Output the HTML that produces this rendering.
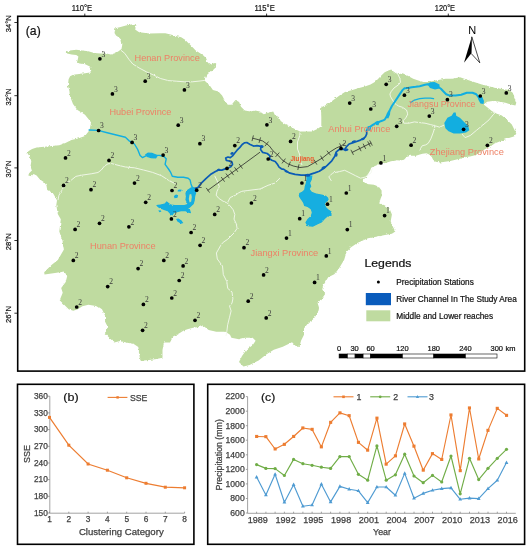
<!DOCTYPE html>
<html><head><meta charset="utf-8"><style>
html,body{margin:0;padding:0;background:#fff;}
svg{display:block;font-family:'Liberation Sans', Arial, sans-serif;}
</style></head><body>
<svg width="529" height="550" viewBox="0 0 529 550">
<rect width="529" height="550" fill="#fff"/>
<defs><filter id="rough" x="-5%" y="-5%" width="110%" height="110%"><feTurbulence type="fractalNoise" baseFrequency="0.35" numOctaves="2" seed="3" result="n"/><feDisplacementMap in="SourceGraphic" in2="n" scale="2.6" xChannelSelector="R" yChannelSelector="G"/></filter><filter id="rough2" x="-10%" y="-10%" width="120%" height="120%"><feTurbulence type="fractalNoise" baseFrequency="0.5" numOctaves="2" seed="7" result="n"/><feDisplacementMap in="SourceGraphic" in2="n" scale="2.2" xChannelSelector="R" yChannelSelector="G"/></filter></defs>
<polygon points="114.5,33.0 115.3,28.2 120.6,26.9 125.9,25.6 132.5,24.3 136.5,25.6 135.1,29.6 139.1,32.2 149.7,33.5 160.0,33.2 165.3,33.2 170.6,34.6 175.9,35.9 181.2,37.2 185.1,39.8 187.8,42.5 190.4,45.1 193.1,47.8 195.7,50.4 199.7,53.1 203.7,55.7 206.3,58.4 207.6,62.3 210.3,65.0 214.3,63.0 216.2,64.3 215.6,67.6 212.9,70.3 209.0,72.9 206.3,75.6 205.0,78.2 205.0,80.9 207.6,83.5 210.3,86.2 212.9,90.0 218.4,91.6 222.1,95.4 225.0,101.0 227.8,104.8 231.6,104.8 235.4,100.1 239.1,102.0 241.0,106.7 244.8,110.5 250.5,111.4 255.2,110.5 259.9,111.4 263.7,114.3 269.4,112.4 273.2,111.4 275.0,115.2 278.8,117.1 280.7,120.9 284.5,123.7 289.5,126.3 294.8,129.0 300.1,131.6 306.7,131.6 312.0,131.6 317.3,129.0 321.3,126.3 321.3,117.0 321.0,111.0 321.3,107.3 325.1,105.4 328.9,103.5 332.7,100.6 336.5,97.8 340.2,95.0 345.0,92.1 351.6,90.2 357.3,88.4 364.8,86.5 370.5,84.6 375.2,81.7 378.0,78.9 381.8,75.1 384.7,72.3 388.4,70.4 391.3,69.5 393.2,71.3 396.0,73.2 398.8,74.2 402.6,73.2 406.4,75.1 410.0,77.0 413.2,78.7 418.3,80.4 423.4,82.1 428.5,82.1 435.3,80.4 445.5,78.7 452.3,78.7 460.0,77.3 470.9,80.9 481.8,84.5 492.7,87.3 501.8,89.1 509.0,90.0 512.7,92.7 514.5,97.2 516.3,102.7 515.4,105.4 510.8,104.5 505.4,102.7 500.0,101.8 492.7,100.9 487.2,101.8 483.6,104.5 487.2,107.2 491.8,110.9 496.3,113.6 501.8,115.4 507.2,120.0 511.8,124.5 514.5,130.0 516.3,133.6 514.5,136.3 509.0,138.1 503.6,139.9 499.0,141.7 494.5,143.5 490.9,146.3 487.2,148.1 481.8,151.0 476.0,155.0 470.0,156.5 466.2,157.1 460.9,158.5 455.6,159.8 450.3,161.1 445.0,161.8 439.7,162.4 435.7,161.8 433.1,159.8 431.8,157.1 429.1,154.5 426.5,153.2 422.5,153.8 419.8,154.5 415.9,155.8 410.6,155.8 406.6,157.1 404.0,159.8 400.0,160.4 396.7,160.2 391.0,161.2 385.4,163.1 379.7,164.0 375.0,165.9 371.2,167.8 370.2,170.6 368.4,173.5 365.5,177.3 362.7,181.0 366.5,183.9 374.0,184.8 378.8,186.7 381.6,190.5 381.6,196.2 380.5,199.0 379.4,203.1 385.0,205.4 389.6,208.8 391.9,214.4 390.7,221.3 393.0,227.0 395.3,231.5 391.9,233.7 385.0,234.9 374.9,237.1 368.0,238.3 357.8,242.8 351.0,247.3 346.5,251.9 344.2,259.8 338.6,268.9 334.3,274.2 331.2,275.7 328.2,277.2 323.7,284.8 322.2,289.3 325.2,293.9 322.0,298.4 317.6,303.0 319.0,307.5 317.6,313.5 313.0,319.6 308.6,322.6 304.0,328.6 304.0,334.7 301.0,340.7 299.5,346.8 296.5,346.8 292.0,342.3 282.8,346.8 273.8,349.8 266.2,354.4 258.6,360.4 249.6,365.0 243.5,366.5 239.0,362.0 242.0,355.9 246.5,349.8 252.6,345.3 255.6,340.7 252.6,337.7 245.0,337.7 239.0,339.2 231.4,337.7 230.0,334.7 225.4,331.7 216.3,331.7 208.7,330.0 202.7,325.6 199.7,327.0 194.3,327.5 188.2,329.0 183.7,330.5 179.0,333.5 173.0,336.5 170.0,342.6 164.0,342.6 162.5,350.0 162.5,357.7 155.0,359.2 148.9,360.0 141.3,360.7 139.8,357.7 138.3,347.0 133.8,344.0 126.2,342.6 120.2,341.0 114.1,342.6 109.6,338.0 105.0,333.5 108.0,327.5 105.0,321.4 105.0,315.4 102.0,309.3 97.5,306.3 88.4,304.8 82.3,306.3 77.8,309.3 73.3,310.8 68.7,309.3 64.2,304.8 59.7,300.2 62.7,292.7 61.2,288.0 65.7,282.0 67.2,276.0 64.2,271.5 55.0,273.0 44.5,274.5 44.2,272.3 47.2,269.2 51.8,264.7 57.8,260.0 63.9,249.6 62.3,240.5 59.3,231.4 60.8,219.3 57.8,214.1 57.0,209.6 56.3,205.0 57.0,200.5 55.5,197.5 53.3,193.7 50.2,191.4 47.2,189.9 46.5,185.4 44.2,182.3 41.9,180.8 39.7,179.3 36.6,175.5 33.6,174.0 31.3,176.3 28.3,175.5 29.1,173.3 32.1,170.2 30.6,165.7 31.3,161.2 29.8,156.6 27.6,153.6 28.3,151.3 32.1,149.1 36.6,147.6 44.2,146.8 51.8,146.0 59.3,145.3 65.4,143.0 71.4,140.0 78.0,138.5 85.0,136.0 89.6,130.0 91.0,122.3 85.0,114.8 77.5,110.0 73.0,104.0 69.9,96.0 69.4,91.0 67.9,85.4 68.6,79.3 70.1,76.3 73.1,74.8 79.2,74.0 85.2,73.3 89.8,72.5 91.3,70.2 89.8,66.5 85.2,64.2 80.7,63.4 76.9,62.7 77.7,59.7 78.4,56.6 76.2,55.1 71.6,54.4 67.1,53.6 65.6,52.1 70.1,50.6 76.2,49.8 82.2,50.6 88.3,51.3 94.3,52.9 100.4,53.6 106.4,53.6 111.0,54.4 115.5,52.9 118.5,51.3 121.5,49.1 122.3,44.5 121.5,40.0 119.0,37.5 116.0,35.5" fill="#bfdba0" stroke="none" filter="url(#rough)"/>
<g filter="url(#rough2)">
<polyline points="120.9,50.2 124.8,53.4 128.8,59.2 132.8,64.0 139.0,67.9 146.5,71.9 153.5,75.0 160.5,78.5 168.4,80.6 176.3,81.2 184.4,81.8 192.3,81.8 200.0,81.0 205.0,80.3" fill="none" stroke="#f4f8ee" stroke-width="0.9" stroke-linejoin="round"/>
<polyline points="58.0,200.1 58.9,195.4 61.7,190.6 63.6,186.9 66.5,183.1 71.2,180.2 75.9,176.4 81.6,175.2 91.8,173.7 98.0,172.5 101.3,170.0 104.5,166.0 108.0,163.8 111.5,163.5 117.0,165.0 125.4,167.0 134.4,167.8 143.5,170.0 152.6,172.4 161.7,175.8 168.5,180.3 175.3,183.7" fill="none" stroke="#f4f8ee" stroke-width="0.9" stroke-linejoin="round"/>
<polyline points="214.7,175.8 217.0,180.5 219.3,186.6 217.0,191.3 216.2,195.2 218.6,198.2 223.2,201.3 227.1,202.9 230.2,206.0 233.2,209.8 234.8,214.5 234.0,219.1 236.3,223.8 237.1,228.4 234.0,233.0 230.9,236.1 227.8,239.2 223.2,242.3 220.8,245.2 216.4,253.0 217.3,259.0 222.5,266.0 223.3,274.6 226.8,281.5 227.7,288.4 232.0,291.9 232.9,298.8 232.0,303.1 229.5,306.0 231.1,310.9 229.4,317.8 227.7,324.7 226.8,331.6 226.0,336.0" fill="none" stroke="#f4f8ee" stroke-width="0.9" stroke-linejoin="round"/>
<polyline points="227.8,202.1 230.2,197.5 235.6,195.2 238.7,192.8 241.8,191.3 247.9,190.5 254.1,189.7 260.0,189.0 268.1,185.3 274.9,183.1 280.0,178.1" fill="none" stroke="#f4f8ee" stroke-width="0.9" stroke-linejoin="round"/>
<polyline points="300.1,131.6 299.8,135.4 297.5,142.0 297.5,149.0 299.8,155.0 299.8,160.4 302.0,165.0" fill="none" stroke="#f4f8ee" stroke-width="0.9" stroke-linejoin="round"/>
<polyline points="331.4,180.9 328.8,176.9 332.8,172.9 339.4,171.6 344.7,170.3 350.0,172.9 355.3,175.6 360.6,178.2 365.8,176.9 371.1,172.9 372.0,169.0" fill="none" stroke="#f4f8ee" stroke-width="0.9" stroke-linejoin="round"/>
<polyline points="397.2,72.9 399.8,78.2 400.5,82.2 398.5,84.8 394.0,88.0 391.2,91.5 389.9,94.1 390.6,96.8 394.6,103.4 398.5,106.0 402.5,107.3 406.5,110.0 407.8,114.0 405.8,117.9 403.2,120.6 403.8,123.2 409.1,123.2 414.4,121.9 419.7,122.6 425.0,123.2 430.3,124.5 435.6,125.9 439.5,127.2 444.3,125.0" fill="none" stroke="#f4f8ee" stroke-width="0.9" stroke-linejoin="round"/>
<polyline points="435.1,126.2 433.4,132.1 430.8,138.9 428.3,143.2 425.7,144.9 422.3,145.7 420.6,148.3 420.0,151.0" fill="none" stroke="#f4f8ee" stroke-width="0.9" stroke-linejoin="round"/>
<polyline points="462.0,134.0 465.1,137.6 470.3,135.5 476.5,130.3 482.8,125.1 489.0,119.9 493.2,114.7 495.3,112.6 492.0,110.0" fill="none" stroke="#f4f8ee" stroke-width="0.9" stroke-linejoin="round"/>
</g>
<polyline points="89.1,130.0 98.1,130.4 107.2,132.7 116.3,135.0 125.4,137.2 128.8,140.6 134.4,144.0 137.8,149.7 140.1,155.4 142.4,157.6 146.9,155.4 151.5,154.6 154.9,155.4 159.4,155.4 163.9,156.5 166.2,158.8 165.1,164.4 168.5,169.0 170.7,172.4 172.3,176.2 177.8,177.3 183.5,177.3 188.2,178.2 190.1,180.1 191.0,183.9 192.0,186.7 194.0,188.5" fill="none" stroke="#12aee0" stroke-width="1.4" stroke-linejoin="round" stroke-linecap="round"/>
<polyline points="366.7,130.4 367.8,128.1 370.6,126.4 374.0,124.2 376.3,122.5 379.1,121.9 382.0,120.8 384.8,119.6 386.5,116.8 387.6,114.0 389.9,110.0 391.9,106.0 394.6,102.0 397.2,98.1 399.8,94.1 402.5,90.1 404.5,88.2 407.8,88.0 411.8,87.2 415.7,86.8 419.7,86.2 425.0,84.8 427.6,84.2 432.0,84.5 437.0,86.0 440.9,88.8 443.5,91.5 446.2,94.3 449.8,95.6 455.5,95.6 461.2,94.7 466.8,92.8 472.5,92.8 476.3,94.3 478.2,96.6" fill="none" stroke="#12aee0" stroke-width="2" stroke-linejoin="round" stroke-linecap="round"/>
<polyline points="410.4,102.7 414.4,100.1 419.7,98.7 425.0,98.1 430.3,98.1 433.6,98.7" fill="none" stroke="#12aee0" stroke-width="1.2" stroke-linejoin="round" stroke-linecap="round"/>
<polyline points="194.0,188.5 197.9,187.6 201.3,183.1 205.9,178.6 210.4,174.6 215.0,171.8 218.4,169.9 221.8,170.1 225.2,168.9 228.6,167.8 230.8,166.7 232.5,164.4 232.0,162.1 229.1,161.0 226.3,160.4 225.7,158.1 228.0,157.0 230.3,157.6 232.5,155.9 234.8,153.0 237.1,150.2 239.9,147.4 242.2,144.5 244.4,142.8 246.8,142.5 250.2,144.4 253.6,146.1 257.0,145.6 261.0,146.3 260.6,149.5 262.7,152.4 267.2,153.5 270.0,155.8 269.5,158.6 271.8,160.3 275.2,161.5 277.4,164.3 279.1,167.1 281.4,168.8 283.9,169.4 289.1,172.9 295.1,174.4 301.2,175.1 307.2,175.1 310.2,174.4 314.8,172.9 319.3,171.3 323.9,168.3 327.2,165.4 331.8,160.8 334.8,156.3 336.3,151.8 339.3,149.5 343.5,149.2 344.5,149.7 346.8,146.3 349.1,144.0 352.5,142.9 355.9,141.8 360.4,140.1 363.8,138.4 365.5,136.7 366.7,133.8 366.7,130.4" fill="none" stroke="#0b5cb5" stroke-width="1.7" stroke-linejoin="round"/>
<g filter="url(#rough2)">
<polygon points="156.2,205.0 160.4,204.4 164.6,203.4 166.6,201.3 168.2,202.4 170.8,204.4 175.0,205.0 180.2,205.0 184.3,205.0 187.4,203.9 186.4,201.8 185.4,199.8 185.9,196.6 185.4,193.5 186.4,190.4 189.0,188.8 191.1,187.3 193.7,187.3 195.7,189.4 196.3,192.5 195.2,196.6 194.7,200.8 193.7,203.9 191.6,206.0 189.5,208.1 190.5,211.2 191.1,213.3 188.5,212.8 185.4,211.2 181.2,211.2 177.0,212.2 173.9,213.3 172.4,215.4 170.3,214.3 167.7,211.2 164.6,210.2 161.4,209.1 158.3,207.6 156.8,206.0" fill="#12aee0"/>
<polygon points="306.4,175.5 312.4,175.5 311.8,179.8 310.2,183.1 311.3,186.4 309.7,189.1 311.8,191.8 316.2,193.5 321.7,194.6 326.0,195.7 328.2,197.8 328.8,200.6 326.6,201.7 324.9,203.8 326.0,207.1 328.2,209.3 331.5,211.5 331.5,215.9 328.2,215.9 324.9,219.1 321.7,222.4 317.3,224.6 312.9,226.8 307.5,226.2 305.3,222.4 307.5,219.1 310.7,215.9 311.8,212.6 310.7,209.3 307.5,207.1 304.2,206.0 303.1,202.8 300.9,199.5 298.7,196.2 299.3,192.9 302.0,191.8 304.2,189.7 304.7,186.4 305.8,183.1 306.4,179.8" fill="#12aee0"/>
<polygon points="145.0,154.5 148.0,152.5 152.0,152.8 155.0,154.0 158.0,155.5 156.0,158.5 151.0,158.2 147.0,157.0" fill="#12aee0"/>
<polygon points="173.9,196.0 176.0,194.6 178.1,195.2 177.5,197.8 174.5,198.2" fill="#12aee0"/>
<polygon points="177.0,190.2 179.5,189.4 181.7,189.8 181.0,191.4 177.8,191.4" fill="#12aee0"/>
<polygon points="176.0,219.0 178.5,218.5 181.5,220.5 183.3,223.0 181.0,223.7 177.5,221.5" fill="#12aee0"/>
<polygon points="158.3,210.5 160.5,210.2 161.4,211.5 159.5,212.2" fill="#12aee0"/>
</g>
<polygon points="444.3,123.0 447.4,117.8 451.6,115.7 453.7,112.6 455.7,112.6 456.2,115.7 459.9,117.8 464.1,122.0 468.2,126.1 469.3,130.3 466.1,132.4 459.9,133.4 453.7,133.4 448.5,131.3 445.4,128.2" fill="#12aee0"/>
<polygon points="366.7,127.0 369.0,125.9 371.2,127.5 370.5,130.4 367.5,131.0" fill="#12aee0"/>
<polygon points="375.2,122.5 378.0,120.8 379.7,122.0 378.5,125.3 376.0,125.0" fill="#12aee0"/>
<polygon points="386.5,118.0 388.6,113.0 390.4,110.5 390.0,114.5 388.3,118.5" fill="#12aee0"/>
<polygon points="427.6,84.5 430.0,82.2 434.5,82.0 439.5,84.5 439.5,88.5 435.0,89.5 430.0,88.0" fill="#12aee0"/>
<polygon points="477.2,96.0 480.5,95.4 482.5,97.5 484.0,101.0 483.5,104.1 480.5,103.5 478.5,100.0" fill="#12aee0"/>
<polygon points="189.5,194.6 191.2,194.0 191.8,197.0 191.2,201.5 189.6,202.5 188.8,199.0" fill="#bfdba0"/>
<ellipse cx="307.6" cy="175.3" rx="2.8" ry="1.5" transform="rotate(0 307.6 175.3)" fill="#0b5cb5"/>
<ellipse cx="286.5" cy="171.5" rx="2.2" ry="1.1" transform="rotate(20 286.5 171.5)" fill="#0b5cb5"/>
<ellipse cx="261.8" cy="146.6" rx="1.8" ry="1.6" transform="rotate(0 261.8 146.6)" fill="#0b5cb5"/>
<ellipse cx="323.5" cy="167.6" rx="2.3" ry="1.3" transform="rotate(-30 323.5 167.6)" fill="#0b5cb5"/>
<ellipse cx="336.2" cy="154.5" rx="1.4" ry="2.3" transform="rotate(0 336.2 154.5)" fill="#0b5cb5"/>
<ellipse cx="353.9" cy="141.6" rx="2.3" ry="1.2" transform="rotate(-20 353.9 141.6)" fill="#0b5cb5"/>
<ellipse cx="363" cy="138.8" rx="2.0" ry="1.2" transform="rotate(-20 363 138.8)" fill="#0b5cb5"/>
<ellipse cx="346.3" cy="149.8" rx="2.2" ry="1.3" transform="rotate(-10 346.3 149.8)" fill="#0b5cb5"/>
<ellipse cx="232" cy="153.4" rx="1.8" ry="1.2" transform="rotate(-30 232 153.4)" fill="#0b5cb5"/>
<ellipse cx="218.4" cy="169.9" rx="1.6" ry="1.1" transform="rotate(-30 218.4 169.9)" fill="#0b5cb5"/>
<polyline points="207.6,190.5 260.0,152.2" fill="none" stroke="#2a2a2a" stroke-width="0.8"/>
<line x1="206.2" y1="187.9" x2="209.6" y2="192.6" stroke="#222" stroke-width="0.7"/>
<line x1="221.2" y1="177.0" x2="224.6" y2="181.7" stroke="#222" stroke-width="0.7"/>
<line x1="225.9" y1="173.5" x2="229.3" y2="178.2" stroke="#222" stroke-width="0.7"/>
<line x1="230.2" y1="170.4" x2="233.6" y2="175.1" stroke="#222" stroke-width="0.7"/>
<line x1="234.5" y1="167.3" x2="237.9" y2="171.9" stroke="#222" stroke-width="0.7"/>
<line x1="239.1" y1="163.9" x2="242.5" y2="168.6" stroke="#222" stroke-width="0.7"/>
<polyline points="252.5,138.2 257.0,139.3 262.7,141.0 266.2,143.5 269.5,146.1 272.9,150.7 278.6,155.8 282.0,159.8 287.6,163.7 293.3,166.0 300.0,167.5 307.6,166.6 315.1,162.3 322.7,157.8 330.2,151.8 336.3,148.0 341.6,145.7 344.6,143.4" fill="none" stroke="#2a2a2a" stroke-width="0.8"/>
<line x1="253.4" y1="135.4" x2="252.0" y2="141.1" stroke="#222" stroke-width="0.7"/>
<line x1="260.6" y1="137.4" x2="259.0" y2="142.9" stroke="#222" stroke-width="0.7"/>
<line x1="268.5" y1="141.6" x2="264.9" y2="146.2" stroke="#222" stroke-width="0.7"/>
<line x1="279.3" y1="152.6" x2="275.5" y2="156.9" stroke="#222" stroke-width="0.7"/>
<line x1="285.4" y1="158.6" x2="282.0" y2="163.4" stroke="#222" stroke-width="0.7"/>
<line x1="290.4" y1="161.7" x2="288.2" y2="167.1" stroke="#222" stroke-width="0.7"/>
<line x1="299.0" y1="164.3" x2="297.8" y2="170.0" stroke="#222" stroke-width="0.7"/>
<line x1="313.9" y1="159.6" x2="316.9" y2="164.6" stroke="#222" stroke-width="0.7"/>
<line x1="320.5" y1="155.7" x2="323.5" y2="160.7" stroke="#222" stroke-width="0.7"/>
<line x1="326.9" y1="150.7" x2="330.5" y2="155.3" stroke="#222" stroke-width="0.7"/>
<line x1="339.6" y1="143.4" x2="342.0" y2="148.7" stroke="#222" stroke-width="0.7"/>
<polyline points="351.9,152.5 371.2,142.9" fill="none" stroke="#2a2a2a" stroke-width="0.8"/>
<line x1="350.9" y1="149.8" x2="353.5" y2="154.9" stroke="#222" stroke-width="0.7"/>
<line x1="358.5" y1="146.0" x2="361.1" y2="151.2" stroke="#222" stroke-width="0.7"/>
<line x1="363.1" y1="143.7" x2="365.7" y2="148.9" stroke="#222" stroke-width="0.7"/>
<line x1="367.7" y1="141.4" x2="370.3" y2="146.6" stroke="#222" stroke-width="0.7"/>
<line x1="369.7" y1="140.4" x2="372.3" y2="145.6" stroke="#222" stroke-width="0.7"/>
<text x="134.5" y="61.2" font-size="9.2" fill="#ed8166" textLength="65.3" lengthAdjust="spacingAndGlyphs">Henan Province</text>
<text x="109.4" y="114.8" font-size="9.2" fill="#ed8166" textLength="62" lengthAdjust="spacingAndGlyphs">Hubei Province</text>
<text x="90" y="249.3" font-size="9.2" fill="#ed8166" textLength="65.5" lengthAdjust="spacingAndGlyphs">Hunan Province</text>
<text x="250.5" y="256.1" font-size="9.2" fill="#ed8166" textLength="67.8" lengthAdjust="spacingAndGlyphs">Jiangxi Province</text>
<text x="328.3" y="132.1" font-size="9.2" fill="#ed8166" textLength="62" lengthAdjust="spacingAndGlyphs">Anhui Province</text>
<text x="407.6" y="107.4" font-size="9.2" fill="#ed8166" textLength="68" lengthAdjust="spacingAndGlyphs">Jiangsu Province</text>
<text x="429.8" y="154.9" font-size="9.2" fill="#ed8166" textLength="74" lengthAdjust="spacingAndGlyphs">Zhejiang Province</text>
<text x="290.4" y="161.2" font-size="6.6" fill="#ec5a2e" textLength="23.6" lengthAdjust="spacingAndGlyphs" font-weight="bold">Jiujiang</text>
<circle cx="99.9" cy="58.8" r="1.85" fill="#000"/>
<text x="101.4" y="56.5" font-size="7.6" font-family="Liberation Serif, serif" fill="#3a3a3a">3</text>
<circle cx="98.6" cy="130.5" r="1.85" fill="#000"/>
<text x="100.1" y="128.2" font-size="7.6" font-family="Liberation Serif, serif" fill="#3a3a3a">3</text>
<circle cx="145.2" cy="81.2" r="1.85" fill="#000"/>
<text x="146.7" y="78.9" font-size="7.6" font-family="Liberation Serif, serif" fill="#3a3a3a">3</text>
<circle cx="112.4" cy="93.9" r="1.85" fill="#000"/>
<text x="113.9" y="91.6" font-size="7.6" font-family="Liberation Serif, serif" fill="#3a3a3a">3</text>
<circle cx="184.4" cy="89.9" r="1.85" fill="#000"/>
<text x="185.9" y="87.6" font-size="7.6" font-family="Liberation Serif, serif" fill="#3a3a3a">3</text>
<circle cx="178.2" cy="125.2" r="1.85" fill="#000"/>
<text x="179.7" y="122.9" font-size="7.6" font-family="Liberation Serif, serif" fill="#3a3a3a">3</text>
<circle cx="199.9" cy="143.7" r="1.85" fill="#000"/>
<text x="201.4" y="141.4" font-size="7.6" font-family="Liberation Serif, serif" fill="#3a3a3a">3</text>
<circle cx="132.1" cy="142.4" r="1.85" fill="#000"/>
<text x="133.6" y="140.1" font-size="7.6" font-family="Liberation Serif, serif" fill="#3a3a3a">3</text>
<circle cx="163.1" cy="155.1" r="1.85" fill="#000"/>
<text x="164.6" y="152.8" font-size="7.6" font-family="Liberation Serif, serif" fill="#3a3a3a">3</text>
<circle cx="234.8" cy="145.6" r="1.85" fill="#000"/>
<text x="236.3" y="143.3" font-size="7.6" font-family="Liberation Serif, serif" fill="#3a3a3a">2</text>
<circle cx="266.9" cy="124.8" r="1.85" fill="#000"/>
<text x="268.4" y="122.5" font-size="7.6" font-family="Liberation Serif, serif" fill="#3a3a3a">3</text>
<circle cx="227.0" cy="168.4" r="1.85" fill="#000"/>
<text x="228.5" y="166.1" font-size="7.6" font-family="Liberation Serif, serif" fill="#3a3a3a">2</text>
<circle cx="268.2" cy="159.0" r="1.85" fill="#000"/>
<text x="269.7" y="156.7" font-size="7.6" font-family="Liberation Serif, serif" fill="#3a3a3a">2</text>
<circle cx="134.5" cy="183.1" r="1.85" fill="#000"/>
<text x="136.0" y="180.8" font-size="7.6" font-family="Liberation Serif, serif" fill="#3a3a3a">2</text>
<circle cx="172.0" cy="190.5" r="1.85" fill="#000"/>
<text x="173.5" y="188.2" font-size="7.6" font-family="Liberation Serif, serif" fill="#3a3a3a">2</text>
<circle cx="196.7" cy="190.2" r="1.85" fill="#000"/>
<text x="198.2" y="187.9" font-size="7.6" font-family="Liberation Serif, serif" fill="#3a3a3a">2</text>
<circle cx="65.5" cy="157.9" r="1.85" fill="#000"/>
<text x="67.0" y="155.6" font-size="7.6" font-family="Liberation Serif, serif" fill="#3a3a3a">2</text>
<circle cx="109.0" cy="160.4" r="1.85" fill="#000"/>
<text x="110.5" y="158.1" font-size="7.6" font-family="Liberation Serif, serif" fill="#3a3a3a">2</text>
<circle cx="63.6" cy="185.4" r="1.85" fill="#000"/>
<text x="65.1" y="183.1" font-size="7.6" font-family="Liberation Serif, serif" fill="#3a3a3a">2</text>
<circle cx="91.0" cy="189.7" r="1.85" fill="#000"/>
<text x="92.5" y="187.4" font-size="7.6" font-family="Liberation Serif, serif" fill="#3a3a3a">2</text>
<circle cx="290.6" cy="141.4" r="1.85" fill="#000"/>
<text x="292.1" y="139.1" font-size="7.6" font-family="Liberation Serif, serif" fill="#3a3a3a">2</text>
<circle cx="301.9" cy="183.0" r="1.85" fill="#000"/>
<text x="303.4" y="180.7" font-size="7.6" font-family="Liberation Serif, serif" fill="#3a3a3a">1</text>
<circle cx="346.3" cy="193.0" r="1.85" fill="#000"/>
<text x="347.8" y="190.7" font-size="7.6" font-family="Liberation Serif, serif" fill="#3a3a3a">1</text>
<circle cx="327.5" cy="204.2" r="1.85" fill="#000"/>
<text x="329.0" y="201.9" font-size="7.6" font-family="Liberation Serif, serif" fill="#3a3a3a">1</text>
<circle cx="299.7" cy="218.7" r="1.85" fill="#000"/>
<text x="301.2" y="216.4" font-size="7.6" font-family="Liberation Serif, serif" fill="#3a3a3a">1</text>
<circle cx="347.3" cy="229.6" r="1.85" fill="#000"/>
<text x="348.8" y="227.3" font-size="7.6" font-family="Liberation Serif, serif" fill="#3a3a3a">1</text>
<circle cx="384.6" cy="215.6" r="1.85" fill="#000"/>
<text x="386.1" y="213.3" font-size="7.6" font-family="Liberation Serif, serif" fill="#3a3a3a">1</text>
<circle cx="286.5" cy="238.1" r="1.85" fill="#000"/>
<text x="288.0" y="235.8" font-size="7.6" font-family="Liberation Serif, serif" fill="#3a3a3a">1</text>
<circle cx="145.7" cy="202.3" r="1.85" fill="#000"/>
<text x="147.2" y="200.0" font-size="7.6" font-family="Liberation Serif, serif" fill="#3a3a3a">2</text>
<circle cx="171.4" cy="218.9" r="1.85" fill="#000"/>
<text x="172.9" y="216.6" font-size="7.6" font-family="Liberation Serif, serif" fill="#3a3a3a">2</text>
<circle cx="214.7" cy="214.4" r="1.85" fill="#000"/>
<text x="216.2" y="212.1" font-size="7.6" font-family="Liberation Serif, serif" fill="#3a3a3a">2</text>
<circle cx="191.1" cy="232.5" r="1.85" fill="#000"/>
<text x="192.6" y="230.2" font-size="7.6" font-family="Liberation Serif, serif" fill="#3a3a3a">2</text>
<circle cx="75.1" cy="229.4" r="1.85" fill="#000"/>
<text x="76.6" y="227.1" font-size="7.6" font-family="Liberation Serif, serif" fill="#3a3a3a">2</text>
<circle cx="99.5" cy="223.3" r="1.85" fill="#000"/>
<text x="101.0" y="221.0" font-size="7.6" font-family="Liberation Serif, serif" fill="#3a3a3a">2</text>
<circle cx="128.9" cy="226.8" r="1.85" fill="#000"/>
<text x="130.4" y="224.5" font-size="7.6" font-family="Liberation Serif, serif" fill="#3a3a3a">2</text>
<circle cx="73.3" cy="260.4" r="1.85" fill="#000"/>
<text x="74.8" y="258.1" font-size="7.6" font-family="Liberation Serif, serif" fill="#3a3a3a">2</text>
<circle cx="138.1" cy="268.6" r="1.85" fill="#000"/>
<text x="139.6" y="266.3" font-size="7.6" font-family="Liberation Serif, serif" fill="#3a3a3a">2</text>
<circle cx="163.8" cy="260.4" r="1.85" fill="#000"/>
<text x="165.3" y="258.1" font-size="7.6" font-family="Liberation Serif, serif" fill="#3a3a3a">2</text>
<circle cx="183.1" cy="265.9" r="1.85" fill="#000"/>
<text x="184.6" y="263.6" font-size="7.6" font-family="Liberation Serif, serif" fill="#3a3a3a">2</text>
<circle cx="179.2" cy="280.5" r="1.85" fill="#000"/>
<text x="180.7" y="278.2" font-size="7.6" font-family="Liberation Serif, serif" fill="#3a3a3a">2</text>
<circle cx="107.7" cy="286.6" r="1.85" fill="#000"/>
<text x="109.2" y="284.3" font-size="7.6" font-family="Liberation Serif, serif" fill="#3a3a3a">2</text>
<circle cx="171.8" cy="298.0" r="1.85" fill="#000"/>
<text x="173.3" y="295.7" font-size="7.6" font-family="Liberation Serif, serif" fill="#3a3a3a">2</text>
<circle cx="143.4" cy="304.4" r="1.85" fill="#000"/>
<text x="144.9" y="302.1" font-size="7.6" font-family="Liberation Serif, serif" fill="#3a3a3a">2</text>
<circle cx="76.7" cy="307.0" r="1.85" fill="#000"/>
<text x="78.2" y="304.7" font-size="7.6" font-family="Liberation Serif, serif" fill="#3a3a3a">2</text>
<circle cx="142.6" cy="330.3" r="1.85" fill="#000"/>
<text x="144.1" y="328.0" font-size="7.6" font-family="Liberation Serif, serif" fill="#3a3a3a">2</text>
<circle cx="195.0" cy="320.3" r="1.85" fill="#000"/>
<text x="196.5" y="318.0" font-size="7.6" font-family="Liberation Serif, serif" fill="#3a3a3a">2</text>
<circle cx="251.4" cy="203.0" r="1.85" fill="#000"/>
<text x="252.9" y="200.7" font-size="7.6" font-family="Liberation Serif, serif" fill="#3a3a3a">2</text>
<circle cx="200.1" cy="245.3" r="1.85" fill="#000"/>
<text x="201.6" y="243.0" font-size="7.6" font-family="Liberation Serif, serif" fill="#3a3a3a">2</text>
<circle cx="244.0" cy="247.7" r="1.85" fill="#000"/>
<text x="245.5" y="245.4" font-size="7.6" font-family="Liberation Serif, serif" fill="#3a3a3a">2</text>
<circle cx="326.3" cy="255.9" r="1.85" fill="#000"/>
<text x="327.8" y="253.6" font-size="7.6" font-family="Liberation Serif, serif" fill="#3a3a3a">1</text>
<circle cx="263.6" cy="274.9" r="1.85" fill="#000"/>
<text x="265.1" y="272.6" font-size="7.6" font-family="Liberation Serif, serif" fill="#3a3a3a">2</text>
<circle cx="314.6" cy="282.4" r="1.85" fill="#000"/>
<text x="316.1" y="280.1" font-size="7.6" font-family="Liberation Serif, serif" fill="#3a3a3a">1</text>
<circle cx="248.2" cy="301.2" r="1.85" fill="#000"/>
<text x="249.7" y="298.9" font-size="7.6" font-family="Liberation Serif, serif" fill="#3a3a3a">2</text>
<circle cx="266.2" cy="317.9" r="1.85" fill="#000"/>
<text x="267.7" y="315.6" font-size="7.6" font-family="Liberation Serif, serif" fill="#3a3a3a">2</text>
<circle cx="386.2" cy="84.3" r="1.85" fill="#000"/>
<text x="387.7" y="82.0" font-size="7.6" font-family="Liberation Serif, serif" fill="#3a3a3a">3</text>
<circle cx="349.7" cy="103.1" r="1.85" fill="#000"/>
<text x="351.2" y="100.8" font-size="7.6" font-family="Liberation Serif, serif" fill="#3a3a3a">3</text>
<circle cx="370.8" cy="109.0" r="1.85" fill="#000"/>
<text x="372.3" y="106.7" font-size="7.6" font-family="Liberation Serif, serif" fill="#3a3a3a">3</text>
<circle cx="404.4" cy="95.2" r="1.85" fill="#000"/>
<text x="405.9" y="92.9" font-size="7.6" font-family="Liberation Serif, serif" fill="#3a3a3a">3</text>
<circle cx="429.3" cy="116.1" r="1.85" fill="#000"/>
<text x="430.8" y="113.8" font-size="7.6" font-family="Liberation Serif, serif" fill="#3a3a3a">3</text>
<circle cx="396.7" cy="126.3" r="1.85" fill="#000"/>
<text x="398.2" y="124.0" font-size="7.6" font-family="Liberation Serif, serif" fill="#3a3a3a">3</text>
<circle cx="411.1" cy="145.2" r="1.85" fill="#000"/>
<text x="412.6" y="142.9" font-size="7.6" font-family="Liberation Serif, serif" fill="#3a3a3a">2</text>
<circle cx="341.0" cy="148.4" r="1.85" fill="#000"/>
<text x="342.5" y="146.1" font-size="7.6" font-family="Liberation Serif, serif" fill="#3a3a3a">2</text>
<circle cx="380.9" cy="162.9" r="1.85" fill="#000"/>
<text x="382.4" y="160.6" font-size="7.6" font-family="Liberation Serif, serif" fill="#3a3a3a">1</text>
<circle cx="447.4" cy="99.7" r="1.85" fill="#000"/>
<text x="448.9" y="97.4" font-size="7.6" font-family="Liberation Serif, serif" fill="#3a3a3a">3</text>
<circle cx="480.3" cy="96.0" r="1.85" fill="#000"/>
<text x="481.8" y="93.7" font-size="7.6" font-family="Liberation Serif, serif" fill="#3a3a3a">3</text>
<circle cx="506.3" cy="92.9" r="1.85" fill="#000"/>
<text x="507.8" y="90.6" font-size="7.6" font-family="Liberation Serif, serif" fill="#3a3a3a">3</text>
<circle cx="463.6" cy="129.3" r="1.85" fill="#000"/>
<text x="465.1" y="127.0" font-size="7.6" font-family="Liberation Serif, serif" fill="#3a3a3a">3</text>
<circle cx="487.4" cy="145.3" r="1.85" fill="#000"/>
<text x="488.9" y="143.0" font-size="7.6" font-family="Liberation Serif, serif" fill="#3a3a3a">2</text>
<rect x="17.7" y="16.3" width="507" height="354.8" fill="none" stroke="#000" stroke-width="1.6"/>
<line x1="84.8" y1="16.3" x2="84.8" y2="13.6" stroke="#000" stroke-width="0.8"/>
<text x="82" y="10.6" font-size="8.2" fill="#1a1a1a" text-anchor="middle" textLength="20.3" lengthAdjust="spacingAndGlyphs" stroke="#1a1a1a" stroke-width="0.22">110°E</text>
<line x1="266.6" y1="16.3" x2="266.6" y2="13.6" stroke="#000" stroke-width="0.8"/>
<text x="264.6" y="10.6" font-size="8.2" fill="#1a1a1a" text-anchor="middle" textLength="20.3" lengthAdjust="spacingAndGlyphs" stroke="#1a1a1a" stroke-width="0.22">115°E</text>
<line x1="448.3" y1="16.3" x2="448.3" y2="13.6" stroke="#000" stroke-width="0.8"/>
<text x="444.9" y="10.6" font-size="8.2" fill="#1a1a1a" text-anchor="middle" textLength="20.3" lengthAdjust="spacingAndGlyphs" stroke="#1a1a1a" stroke-width="0.22">120°E</text>
<line x1="17.7" y1="22.5" x2="14.4" y2="22.5" stroke="#000" stroke-width="0.8"/>
<text x="0" y="0" transform="translate(11,23.7) rotate(-90)" font-size="8" text-anchor="middle" fill="#1a1a1a" stroke="#1a1a1a" stroke-width="0.22" textLength="17" lengthAdjust="spacingAndGlyphs">34°N</text>
<line x1="17.7" y1="95.7" x2="14.4" y2="95.7" stroke="#000" stroke-width="0.8"/>
<text x="0" y="0" transform="translate(11,96.9) rotate(-90)" font-size="8" text-anchor="middle" fill="#1a1a1a" stroke="#1a1a1a" stroke-width="0.22" textLength="17" lengthAdjust="spacingAndGlyphs">32°N</text>
<line x1="17.7" y1="167.9" x2="14.4" y2="167.9" stroke="#000" stroke-width="0.8"/>
<text x="0" y="0" transform="translate(11,169.1) rotate(-90)" font-size="8" text-anchor="middle" fill="#1a1a1a" stroke="#1a1a1a" stroke-width="0.22" textLength="17" lengthAdjust="spacingAndGlyphs">30°N</text>
<line x1="17.7" y1="240.5" x2="14.4" y2="240.5" stroke="#000" stroke-width="0.8"/>
<text x="0" y="0" transform="translate(11,241.7) rotate(-90)" font-size="8" text-anchor="middle" fill="#1a1a1a" stroke="#1a1a1a" stroke-width="0.22" textLength="17" lengthAdjust="spacingAndGlyphs">28°N</text>
<line x1="17.7" y1="313.2" x2="14.4" y2="313.2" stroke="#000" stroke-width="0.8"/>
<text x="0" y="0" transform="translate(11,314.4) rotate(-90)" font-size="8" text-anchor="middle" fill="#1a1a1a" stroke="#1a1a1a" stroke-width="0.22" textLength="17" lengthAdjust="spacingAndGlyphs">26°N</text>
<text x="25.8" y="35.3" font-size="12.2" fill="#111" stroke="#1a1a1a" stroke-width="0.22">(a)</text>
<text x="472.2" y="33.5" font-size="11" fill="#000" text-anchor="middle">N</text>
<polygon points="471.8,36.8 464,62.8 471.2,53.5" fill="#000"/>
<polygon points="471.8,36.8 479.8,62.8 471.2,53.5" fill="#fff" stroke="#000" stroke-width="0.7" stroke-linejoin="miter"/>
<text x="364.5" y="266.9" font-size="10.5" fill="#111" textLength="47" lengthAdjust="spacingAndGlyphs" stroke="#1a1a1a" stroke-width="0.22">Legends</text>
<circle cx="378.4" cy="282" r="1.5" fill="#000"/>
<text x="396.3" y="284.6" font-size="8.25" fill="#111" stroke="#1a1a1a" stroke-width="0.22">Precipitation Stations</text>
<rect x="365.8" y="293" width="25.2" height="12.2" fill="#0a5cbc"/>
<text x="396.3" y="301.9" font-size="8.25" fill="#111" stroke="#1a1a1a" stroke-width="0.22">River Channel In The Study Area</text>
<rect x="366.3" y="310.3" width="24" height="11" fill="#bfdba0"/>
<text x="396.3" y="318.8" font-size="8.25" fill="#111" stroke="#1a1a1a" stroke-width="0.22">Middle and Lower reaches</text>
<rect x="339.1" y="354" width="8.3" height="4" fill="#000" stroke="#000" stroke-width="0.6"/>
<rect x="347.4" y="354" width="7.7" height="4" fill="#fff" stroke="#000" stroke-width="0.6"/>
<rect x="355.1" y="354" width="8.0" height="4" fill="#000" stroke="#000" stroke-width="0.6"/>
<rect x="363.1" y="354" width="7.5" height="4" fill="#fff" stroke="#000" stroke-width="0.6"/>
<rect x="370.6" y="354" width="31.8" height="4" fill="#000" stroke="#000" stroke-width="0.6"/>
<rect x="402.4" y="354" width="31.4" height="4" fill="#fff" stroke="#000" stroke-width="0.6"/>
<rect x="433.8" y="354" width="31.6" height="4" fill="#000" stroke="#000" stroke-width="0.6"/>
<rect x="465.4" y="354" width="31.6" height="4" fill="#fff" stroke="#000" stroke-width="0.6"/>
<text x="339.1" y="350.6" font-size="7.5" fill="#111" text-anchor="middle" stroke="#1a1a1a" stroke-width="0.22">0</text>
<text x="354.6" y="350.6" font-size="7.5" fill="#111" text-anchor="middle" stroke="#1a1a1a" stroke-width="0.22">30</text>
<text x="370.6" y="350.6" font-size="7.5" fill="#111" text-anchor="middle" stroke="#1a1a1a" stroke-width="0.22">60</text>
<text x="402.4" y="350.6" font-size="7.5" fill="#111" text-anchor="middle" stroke="#1a1a1a" stroke-width="0.22">120</text>
<text x="433.8" y="350.6" font-size="7.5" fill="#111" text-anchor="middle" stroke="#1a1a1a" stroke-width="0.22">180</text>
<text x="465.4" y="350.6" font-size="7.5" fill="#111" text-anchor="middle" stroke="#1a1a1a" stroke-width="0.22">240</text>
<text x="496.8" y="350.6" font-size="7.5" fill="#111" text-anchor="middle" stroke="#1a1a1a" stroke-width="0.22">300</text>
<text x="505.5" y="350.6" font-size="7.5" fill="#111" stroke="#1a1a1a" stroke-width="0.22">km</text>
<rect x="17.5" y="384.3" width="176.4" height="160" fill="none" stroke="#000" stroke-width="1.6"/>
<line x1="49.8" y1="396.2" x2="49.8" y2="513.2" stroke="#8c8c8c" stroke-width="0.8"/>
<line x1="49.8" y1="513.2" x2="184.6" y2="513.2" stroke="#8c8c8c" stroke-width="0.8"/>
<line x1="48" y1="396.2" x2="49.8" y2="396.2" stroke="#8c8c8c" stroke-width="0.8"/>
<text x="47.8" y="399.0" font-size="8.3" fill="#404040" text-anchor="end" stroke="#404040" stroke-width="0.25">360</text>
<line x1="48" y1="412.9" x2="49.8" y2="412.9" stroke="#8c8c8c" stroke-width="0.8"/>
<text x="47.8" y="415.7" font-size="8.3" fill="#404040" text-anchor="end" stroke="#404040" stroke-width="0.25">330</text>
<line x1="48" y1="429.6" x2="49.8" y2="429.6" stroke="#8c8c8c" stroke-width="0.8"/>
<text x="47.8" y="432.4" font-size="8.3" fill="#404040" text-anchor="end" stroke="#404040" stroke-width="0.25">300</text>
<line x1="48" y1="446.3" x2="49.8" y2="446.3" stroke="#8c8c8c" stroke-width="0.8"/>
<text x="47.8" y="449.1" font-size="8.3" fill="#404040" text-anchor="end" stroke="#404040" stroke-width="0.25">270</text>
<line x1="48" y1="463.0" x2="49.8" y2="463.0" stroke="#8c8c8c" stroke-width="0.8"/>
<text x="47.8" y="465.8" font-size="8.3" fill="#404040" text-anchor="end" stroke="#404040" stroke-width="0.25">240</text>
<line x1="48" y1="479.6" x2="49.8" y2="479.6" stroke="#8c8c8c" stroke-width="0.8"/>
<text x="47.8" y="482.4" font-size="8.3" fill="#404040" text-anchor="end" stroke="#404040" stroke-width="0.25">210</text>
<line x1="48" y1="496.3" x2="49.8" y2="496.3" stroke="#8c8c8c" stroke-width="0.8"/>
<text x="47.8" y="499.1" font-size="8.3" fill="#404040" text-anchor="end" stroke="#404040" stroke-width="0.25">180</text>
<line x1="48" y1="513.0" x2="49.8" y2="513.0" stroke="#8c8c8c" stroke-width="0.8"/>
<text x="47.8" y="515.8" font-size="8.3" fill="#404040" text-anchor="end" stroke="#404040" stroke-width="0.25">150</text>
<line x1="49.5" y1="513.2" x2="49.5" y2="511.7" stroke="#8c8c8c" stroke-width="0.8"/>
<text x="49.5" y="521.8" font-size="8.3" fill="#404040" text-anchor="middle" stroke="#404040" stroke-width="0.25">1</text>
<line x1="68.8" y1="513.2" x2="68.8" y2="511.7" stroke="#8c8c8c" stroke-width="0.8"/>
<text x="68.8" y="521.8" font-size="8.3" fill="#404040" text-anchor="middle" stroke="#404040" stroke-width="0.25">2</text>
<line x1="88.1" y1="513.2" x2="88.1" y2="511.7" stroke="#8c8c8c" stroke-width="0.8"/>
<text x="88.1" y="521.8" font-size="8.3" fill="#404040" text-anchor="middle" stroke="#404040" stroke-width="0.25">3</text>
<line x1="107.4" y1="513.2" x2="107.4" y2="511.7" stroke="#8c8c8c" stroke-width="0.8"/>
<text x="107.4" y="521.8" font-size="8.3" fill="#404040" text-anchor="middle" stroke="#404040" stroke-width="0.25">4</text>
<line x1="126.7" y1="513.2" x2="126.7" y2="511.7" stroke="#8c8c8c" stroke-width="0.8"/>
<text x="126.7" y="521.8" font-size="8.3" fill="#404040" text-anchor="middle" stroke="#404040" stroke-width="0.25">5</text>
<line x1="146.0" y1="513.2" x2="146.0" y2="511.7" stroke="#8c8c8c" stroke-width="0.8"/>
<text x="146.0" y="521.8" font-size="8.3" fill="#404040" text-anchor="middle" stroke="#404040" stroke-width="0.25">6</text>
<line x1="165.3" y1="513.2" x2="165.3" y2="511.7" stroke="#8c8c8c" stroke-width="0.8"/>
<text x="165.3" y="521.8" font-size="8.3" fill="#404040" text-anchor="middle" stroke="#404040" stroke-width="0.25">7</text>
<line x1="184.6" y1="513.2" x2="184.6" y2="511.7" stroke="#8c8c8c" stroke-width="0.8"/>
<text x="184.6" y="521.8" font-size="8.3" fill="#404040" text-anchor="middle" stroke="#404040" stroke-width="0.25">8</text>
<text x="121.3" y="535.1" font-size="9.6" fill="#404040" text-anchor="middle" stroke="#404040" stroke-width="0.25">Clustering Category</text>
<text x="0" y="0" transform="translate(30.3,454) rotate(-90)" font-size="9" text-anchor="middle" fill="#404040" stroke="#404040" stroke-width="0.25">SSE</text>
<text x="63.3" y="400.6" font-size="11.5" fill="#111" textLength="15.3" lengthAdjust="spacingAndGlyphs" stroke="#1a1a1a" stroke-width="0.22">(b)</text>
<polyline points="49.5,417.4 68.8,445.2 88.1,464.0 107.4,470.2 126.7,477.8 146.0,483.3 165.3,487.2 184.6,487.8" fill="none" stroke="#ed7d31" stroke-width="1.2"/>
<rect x="48.0" y="415.9" width="3" height="3" fill="#ed7d31"/>
<rect x="67.3" y="443.7" width="3" height="3" fill="#ed7d31"/>
<rect x="86.6" y="462.5" width="3" height="3" fill="#ed7d31"/>
<rect x="105.9" y="468.7" width="3" height="3" fill="#ed7d31"/>
<rect x="125.2" y="476.3" width="3" height="3" fill="#ed7d31"/>
<rect x="144.5" y="481.8" width="3" height="3" fill="#ed7d31"/>
<rect x="163.8" y="485.7" width="3" height="3" fill="#ed7d31"/>
<rect x="183.1" y="486.3" width="3" height="3" fill="#ed7d31"/>
<line x1="107.6" y1="397.4" x2="127.4" y2="397.4" stroke="#ed7d31" stroke-width="1.1"/>
<rect x="116.4" y="396.2" width="2.4" height="2.4" fill="#ed7d31"/>
<text x="129.9" y="400.6" font-size="8.7" fill="#404040" stroke="#404040" stroke-width="0.25">SSE</text>
<rect x="207.7" y="384.3" width="316.9" height="160" fill="none" stroke="#000" stroke-width="1.6"/>
<line x1="247.6" y1="396.6" x2="247.6" y2="513.3" stroke="#8c8c8c" stroke-width="0.8"/>
<line x1="247.6" y1="513.3" x2="515.8" y2="513.3" stroke="#8c8c8c" stroke-width="0.8"/>
<line x1="245.9" y1="396.6" x2="247.6" y2="396.6" stroke="#8c8c8c" stroke-width="0.8"/>
<text x="244.7" y="399.4" font-size="8.6" fill="#404040" text-anchor="end" stroke="#404040" stroke-width="0.25">2200</text>
<line x1="245.9" y1="411.2" x2="247.6" y2="411.2" stroke="#8c8c8c" stroke-width="0.8"/>
<text x="244.7" y="414.0" font-size="8.6" fill="#404040" text-anchor="end" stroke="#404040" stroke-width="0.25">2000</text>
<line x1="245.9" y1="425.7" x2="247.6" y2="425.7" stroke="#8c8c8c" stroke-width="0.8"/>
<text x="244.7" y="428.5" font-size="8.6" fill="#404040" text-anchor="end" stroke="#404040" stroke-width="0.25">1800</text>
<line x1="245.9" y1="440.2" x2="247.6" y2="440.2" stroke="#8c8c8c" stroke-width="0.8"/>
<text x="244.7" y="443.1" font-size="8.6" fill="#404040" text-anchor="end" stroke="#404040" stroke-width="0.25">1600</text>
<line x1="245.9" y1="454.8" x2="247.6" y2="454.8" stroke="#8c8c8c" stroke-width="0.8"/>
<text x="244.7" y="457.6" font-size="8.6" fill="#404040" text-anchor="end" stroke="#404040" stroke-width="0.25">1400</text>
<line x1="245.9" y1="469.4" x2="247.6" y2="469.4" stroke="#8c8c8c" stroke-width="0.8"/>
<text x="244.7" y="472.2" font-size="8.6" fill="#404040" text-anchor="end" stroke="#404040" stroke-width="0.25">1200</text>
<line x1="245.9" y1="483.9" x2="247.6" y2="483.9" stroke="#8c8c8c" stroke-width="0.8"/>
<text x="244.7" y="486.7" font-size="8.6" fill="#404040" text-anchor="end" stroke="#404040" stroke-width="0.25">1000</text>
<line x1="245.9" y1="498.5" x2="247.6" y2="498.5" stroke="#8c8c8c" stroke-width="0.8"/>
<text x="244.7" y="501.3" font-size="8.6" fill="#404040" text-anchor="end" stroke="#404040" stroke-width="0.25">800</text>
<line x1="245.9" y1="513.0" x2="247.6" y2="513.0" stroke="#8c8c8c" stroke-width="0.8"/>
<text x="244.7" y="515.8" font-size="8.6" fill="#404040" text-anchor="end" stroke="#404040" stroke-width="0.25">600</text>
<line x1="256.6" y1="513.3" x2="256.6" y2="511.7" stroke="#8c8c8c" stroke-width="0.8"/>
<line x1="265.9" y1="513.3" x2="265.9" y2="511.7" stroke="#8c8c8c" stroke-width="0.8"/>
<line x1="275.1" y1="513.3" x2="275.1" y2="511.7" stroke="#8c8c8c" stroke-width="0.8"/>
<line x1="284.4" y1="513.3" x2="284.4" y2="511.7" stroke="#8c8c8c" stroke-width="0.8"/>
<line x1="293.6" y1="513.3" x2="293.6" y2="511.7" stroke="#8c8c8c" stroke-width="0.8"/>
<line x1="302.9" y1="513.3" x2="302.9" y2="511.7" stroke="#8c8c8c" stroke-width="0.8"/>
<line x1="312.1" y1="513.3" x2="312.1" y2="511.7" stroke="#8c8c8c" stroke-width="0.8"/>
<line x1="321.4" y1="513.3" x2="321.4" y2="511.7" stroke="#8c8c8c" stroke-width="0.8"/>
<line x1="330.6" y1="513.3" x2="330.6" y2="511.7" stroke="#8c8c8c" stroke-width="0.8"/>
<line x1="339.9" y1="513.3" x2="339.9" y2="511.7" stroke="#8c8c8c" stroke-width="0.8"/>
<line x1="349.2" y1="513.3" x2="349.2" y2="511.7" stroke="#8c8c8c" stroke-width="0.8"/>
<line x1="358.4" y1="513.3" x2="358.4" y2="511.7" stroke="#8c8c8c" stroke-width="0.8"/>
<line x1="367.7" y1="513.3" x2="367.7" y2="511.7" stroke="#8c8c8c" stroke-width="0.8"/>
<line x1="376.9" y1="513.3" x2="376.9" y2="511.7" stroke="#8c8c8c" stroke-width="0.8"/>
<line x1="386.2" y1="513.3" x2="386.2" y2="511.7" stroke="#8c8c8c" stroke-width="0.8"/>
<line x1="395.4" y1="513.3" x2="395.4" y2="511.7" stroke="#8c8c8c" stroke-width="0.8"/>
<line x1="404.7" y1="513.3" x2="404.7" y2="511.7" stroke="#8c8c8c" stroke-width="0.8"/>
<line x1="414.0" y1="513.3" x2="414.0" y2="511.7" stroke="#8c8c8c" stroke-width="0.8"/>
<line x1="423.2" y1="513.3" x2="423.2" y2="511.7" stroke="#8c8c8c" stroke-width="0.8"/>
<line x1="432.5" y1="513.3" x2="432.5" y2="511.7" stroke="#8c8c8c" stroke-width="0.8"/>
<line x1="441.7" y1="513.3" x2="441.7" y2="511.7" stroke="#8c8c8c" stroke-width="0.8"/>
<line x1="451.0" y1="513.3" x2="451.0" y2="511.7" stroke="#8c8c8c" stroke-width="0.8"/>
<line x1="460.2" y1="513.3" x2="460.2" y2="511.7" stroke="#8c8c8c" stroke-width="0.8"/>
<line x1="469.5" y1="513.3" x2="469.5" y2="511.7" stroke="#8c8c8c" stroke-width="0.8"/>
<line x1="478.7" y1="513.3" x2="478.7" y2="511.7" stroke="#8c8c8c" stroke-width="0.8"/>
<line x1="488.0" y1="513.3" x2="488.0" y2="511.7" stroke="#8c8c8c" stroke-width="0.8"/>
<line x1="497.3" y1="513.3" x2="497.3" y2="511.7" stroke="#8c8c8c" stroke-width="0.8"/>
<line x1="506.5" y1="513.3" x2="506.5" y2="511.7" stroke="#8c8c8c" stroke-width="0.8"/>
<text x="257.8" y="522.7" font-size="9.1" fill="#404040" text-anchor="middle" stroke="#404040" stroke-width="0.25">1989</text>
<text x="285.6" y="522.7" font-size="9.1" fill="#404040" text-anchor="middle" stroke="#404040" stroke-width="0.25">1992</text>
<text x="313.3" y="522.7" font-size="9.1" fill="#404040" text-anchor="middle" stroke="#404040" stroke-width="0.25">1995</text>
<text x="341.1" y="522.7" font-size="9.1" fill="#404040" text-anchor="middle" stroke="#404040" stroke-width="0.25">1998</text>
<text x="368.9" y="522.7" font-size="9.1" fill="#404040" text-anchor="middle" stroke="#404040" stroke-width="0.25">2001</text>
<text x="396.6" y="522.7" font-size="9.1" fill="#404040" text-anchor="middle" stroke="#404040" stroke-width="0.25">2004</text>
<text x="424.4" y="522.7" font-size="9.1" fill="#404040" text-anchor="middle" stroke="#404040" stroke-width="0.25">2007</text>
<text x="452.2" y="522.7" font-size="9.1" fill="#404040" text-anchor="middle" stroke="#404040" stroke-width="0.25">2010</text>
<text x="479.9" y="522.7" font-size="9.1" fill="#404040" text-anchor="middle" stroke="#404040" stroke-width="0.25">2013</text>
<text x="507.7" y="522.7" font-size="9.1" fill="#404040" text-anchor="middle" stroke="#404040" stroke-width="0.25">2016</text>
<text x="382" y="534.8" font-size="8.9" fill="#404040" text-anchor="middle" stroke="#404040" stroke-width="0.25">Year</text>
<text x="0" y="0" transform="translate(221.8,454.8) rotate(-90)" font-size="8.8" text-anchor="middle" fill="#404040" stroke="#404040" stroke-width="0.25">Precipitation (mm)</text>
<text x="261.0" y="400.6" font-size="11.5" fill="#111" textLength="14.2" lengthAdjust="spacingAndGlyphs" stroke="#1a1a1a" stroke-width="0.22">(c)</text>
<polyline points="256.6,436.5 265.9,436.7 275.1,449.0 284.4,444.3 293.6,436.5 302.9,428.0 312.1,429.4 321.4,446.9 330.6,422.3 339.9,412.9 349.2,415.7 358.4,442.4 367.7,450.2 376.9,418.1 386.2,464.1 395.4,455.9 404.7,424.0 414.0,446.2 423.2,470.2 432.5,453.6 441.7,459.5 451.0,415.0 460.2,470.6 469.5,408.0 478.7,459.0 488.0,430.4 497.3,408.4 506.5,415.3" fill="none" stroke="#ed7d31" stroke-width="1.15" stroke-linejoin="round"/>
<rect x="255.1" y="434.9" width="3.1" height="3.1" fill="#ed7d31"/>
<rect x="264.3" y="435.1" width="3.1" height="3.1" fill="#ed7d31"/>
<rect x="273.6" y="447.4" width="3.1" height="3.1" fill="#ed7d31"/>
<rect x="282.8" y="442.8" width="3.1" height="3.1" fill="#ed7d31"/>
<rect x="292.1" y="434.9" width="3.1" height="3.1" fill="#ed7d31"/>
<rect x="301.3" y="426.4" width="3.1" height="3.1" fill="#ed7d31"/>
<rect x="310.6" y="427.8" width="3.1" height="3.1" fill="#ed7d31"/>
<rect x="319.8" y="445.3" width="3.1" height="3.1" fill="#ed7d31"/>
<rect x="329.1" y="420.8" width="3.1" height="3.1" fill="#ed7d31"/>
<rect x="338.4" y="411.3" width="3.1" height="3.1" fill="#ed7d31"/>
<rect x="347.6" y="414.1" width="3.1" height="3.1" fill="#ed7d31"/>
<rect x="356.9" y="440.8" width="3.1" height="3.1" fill="#ed7d31"/>
<rect x="366.1" y="448.6" width="3.1" height="3.1" fill="#ed7d31"/>
<rect x="375.4" y="416.6" width="3.1" height="3.1" fill="#ed7d31"/>
<rect x="384.6" y="462.6" width="3.1" height="3.1" fill="#ed7d31"/>
<rect x="393.9" y="454.3" width="3.1" height="3.1" fill="#ed7d31"/>
<rect x="403.1" y="422.4" width="3.1" height="3.1" fill="#ed7d31"/>
<rect x="412.4" y="444.6" width="3.1" height="3.1" fill="#ed7d31"/>
<rect x="421.7" y="468.6" width="3.1" height="3.1" fill="#ed7d31"/>
<rect x="430.9" y="452.1" width="3.1" height="3.1" fill="#ed7d31"/>
<rect x="440.2" y="457.9" width="3.1" height="3.1" fill="#ed7d31"/>
<rect x="449.4" y="413.4" width="3.1" height="3.1" fill="#ed7d31"/>
<rect x="458.7" y="469.1" width="3.1" height="3.1" fill="#ed7d31"/>
<rect x="467.9" y="406.4" width="3.1" height="3.1" fill="#ed7d31"/>
<rect x="477.2" y="457.4" width="3.1" height="3.1" fill="#ed7d31"/>
<rect x="486.4" y="428.8" width="3.1" height="3.1" fill="#ed7d31"/>
<rect x="495.7" y="406.8" width="3.1" height="3.1" fill="#ed7d31"/>
<rect x="505.0" y="413.8" width="3.1" height="3.1" fill="#ed7d31"/>
<polyline points="256.6,464.6 265.9,468.4 275.1,468.6 284.4,475.5 293.6,459.4 302.9,463.7 312.1,465.3 321.4,467.2 330.6,468.4 339.9,456.6 349.2,456.6 358.4,474.3 367.7,480.2 376.9,445.9 386.2,480.2 395.4,474.8 404.7,454.2 414.0,476.0 423.2,482.7 432.5,475.4 441.7,482.0 451.0,456.0 460.2,493.8 469.5,458.3 478.7,479.6 488.0,468.3 497.3,458.3 506.5,449.3" fill="none" stroke="#70ad47" stroke-width="1.15" stroke-linejoin="round"/>
<circle cx="256.6" cy="464.6" r="1.6" fill="#70ad47"/>
<circle cx="265.9" cy="468.4" r="1.6" fill="#70ad47"/>
<circle cx="275.1" cy="468.6" r="1.6" fill="#70ad47"/>
<circle cx="284.4" cy="475.5" r="1.6" fill="#70ad47"/>
<circle cx="293.6" cy="459.4" r="1.6" fill="#70ad47"/>
<circle cx="302.9" cy="463.7" r="1.6" fill="#70ad47"/>
<circle cx="312.1" cy="465.3" r="1.6" fill="#70ad47"/>
<circle cx="321.4" cy="467.2" r="1.6" fill="#70ad47"/>
<circle cx="330.6" cy="468.4" r="1.6" fill="#70ad47"/>
<circle cx="339.9" cy="456.6" r="1.6" fill="#70ad47"/>
<circle cx="349.2" cy="456.6" r="1.6" fill="#70ad47"/>
<circle cx="358.4" cy="474.3" r="1.6" fill="#70ad47"/>
<circle cx="367.7" cy="480.2" r="1.6" fill="#70ad47"/>
<circle cx="376.9" cy="445.9" r="1.6" fill="#70ad47"/>
<circle cx="386.2" cy="480.2" r="1.6" fill="#70ad47"/>
<circle cx="395.4" cy="474.8" r="1.6" fill="#70ad47"/>
<circle cx="404.7" cy="454.2" r="1.6" fill="#70ad47"/>
<circle cx="414.0" cy="476.0" r="1.6" fill="#70ad47"/>
<circle cx="423.2" cy="482.7" r="1.6" fill="#70ad47"/>
<circle cx="432.5" cy="475.4" r="1.6" fill="#70ad47"/>
<circle cx="441.7" cy="482.0" r="1.6" fill="#70ad47"/>
<circle cx="451.0" cy="456.0" r="1.6" fill="#70ad47"/>
<circle cx="460.2" cy="493.8" r="1.6" fill="#70ad47"/>
<circle cx="469.5" cy="458.3" r="1.6" fill="#70ad47"/>
<circle cx="478.7" cy="479.6" r="1.6" fill="#70ad47"/>
<circle cx="488.0" cy="468.3" r="1.6" fill="#70ad47"/>
<circle cx="497.3" cy="458.3" r="1.6" fill="#70ad47"/>
<circle cx="506.5" cy="449.3" r="1.6" fill="#70ad47"/>
<polyline points="256.6,477.1 265.9,494.9 275.1,474.3 284.4,502.2 293.6,484.7 302.9,506.2 312.1,505.0 321.4,484.2 330.6,501.9 339.9,486.4 349.2,489.2 358.4,490.8 367.7,502.6 376.9,487.0 386.2,487.0 395.4,495.3 404.7,473.4 414.0,498.2 423.2,493.4 432.5,490.3 441.7,488.6 451.0,487.9 460.2,499.3 469.5,498.1 478.7,498.6 488.0,488.6 497.3,480.3 506.5,462.6" fill="none" stroke="#4f9bd2" stroke-width="1.15" stroke-linejoin="round"/>
<polygon points="256.6,475.0 254.7,478.4 258.5,478.4" fill="#4f9bd2"/>
<polygon points="265.9,492.8 264.0,496.2 267.8,496.2" fill="#4f9bd2"/>
<polygon points="275.1,472.2 273.2,475.6 277.0,475.6" fill="#4f9bd2"/>
<polygon points="284.4,500.1 282.5,503.5 286.3,503.5" fill="#4f9bd2"/>
<polygon points="293.6,482.6 291.7,486.0 295.5,486.0" fill="#4f9bd2"/>
<polygon points="302.9,504.1 301.0,507.5 304.8,507.5" fill="#4f9bd2"/>
<polygon points="312.1,502.9 310.2,506.3 314.0,506.3" fill="#4f9bd2"/>
<polygon points="321.4,482.1 319.5,485.5 323.3,485.5" fill="#4f9bd2"/>
<polygon points="330.6,499.8 328.7,503.2 332.5,503.2" fill="#4f9bd2"/>
<polygon points="339.9,484.3 338.0,487.7 341.8,487.7" fill="#4f9bd2"/>
<polygon points="349.2,487.1 347.3,490.5 351.1,490.5" fill="#4f9bd2"/>
<polygon points="358.4,488.7 356.5,492.1 360.3,492.1" fill="#4f9bd2"/>
<polygon points="367.7,500.5 365.8,503.9 369.6,503.9" fill="#4f9bd2"/>
<polygon points="376.9,484.9 375.0,488.3 378.8,488.3" fill="#4f9bd2"/>
<polygon points="386.2,484.9 384.3,488.3 388.1,488.3" fill="#4f9bd2"/>
<polygon points="395.4,493.2 393.5,496.6 397.3,496.6" fill="#4f9bd2"/>
<polygon points="404.7,471.3 402.8,474.7 406.6,474.7" fill="#4f9bd2"/>
<polygon points="414.0,496.1 412.1,499.5 415.9,499.5" fill="#4f9bd2"/>
<polygon points="423.2,491.3 421.3,494.7 425.1,494.7" fill="#4f9bd2"/>
<polygon points="432.5,488.2 430.6,491.6 434.4,491.6" fill="#4f9bd2"/>
<polygon points="441.7,486.5 439.8,489.9 443.6,489.9" fill="#4f9bd2"/>
<polygon points="451.0,485.8 449.1,489.2 452.9,489.2" fill="#4f9bd2"/>
<polygon points="460.2,497.2 458.3,500.6 462.1,500.6" fill="#4f9bd2"/>
<polygon points="469.5,496.0 467.6,499.4 471.4,499.4" fill="#4f9bd2"/>
<polygon points="478.7,496.5 476.8,499.9 480.6,499.9" fill="#4f9bd2"/>
<polygon points="488.0,486.5 486.1,489.9 489.9,489.9" fill="#4f9bd2"/>
<polygon points="497.3,478.2 495.4,481.6 499.2,481.6" fill="#4f9bd2"/>
<polygon points="506.5,460.5 504.6,463.9 508.4,463.9" fill="#4f9bd2"/>
<line x1="333.5" y1="396.8" x2="353.5" y2="396.8" stroke="#ed7d31" stroke-width="1.1"/>
<rect x="342.2" y="395.5" width="2.6" height="2.6" fill="#ed7d31"/>
<text x="356.5" y="400" font-size="8.8" fill="#404040" stroke="#404040" stroke-width="0.25">1</text>
<line x1="370.2" y1="396.8" x2="390.2" y2="396.8" stroke="#70ad47" stroke-width="1.1"/>
<circle cx="380.2" cy="396.8" r="1.4" fill="#70ad47"/>
<text x="393.2" y="400" font-size="8.8" fill="#404040" stroke="#404040" stroke-width="0.25">2</text>
<line x1="407.5" y1="396.8" x2="427.5" y2="396.8" stroke="#4f9bd2" stroke-width="1.1"/>
<polygon points="417.5,395 415.9,397.9 419.1,397.9" fill="#4f9bd2"/>
<text x="429.1" y="400" font-size="8.8" fill="#404040" stroke="#404040" stroke-width="0.25">3</text>
</svg></body></html>
